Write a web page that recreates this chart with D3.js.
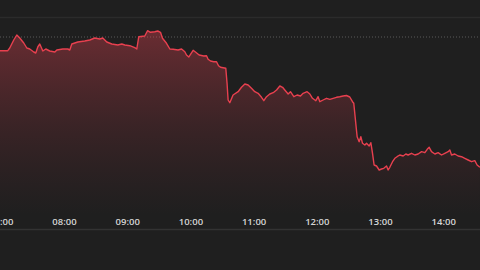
<!DOCTYPE html>
<html>
<head>
<meta charset="utf-8">
<script src="https://cdn.jsdelivr.net/npm/d3@7"></script>
<style>
html, body { margin: 0; padding: 0; background: #1f1f1f; }
svg { display: block; }
</style>
</head>
<body>
<div id="chart"></div>
<script>
// minutes after 07:00 for each reading
var minutes = [
  -0.9, 6.6, 8.5, 12.3, 15.2, 18.0, 21.8, 24.7, 27.5, 31.3,
  33.2, 35.1, 37.0, 39.9, 42.7, 46.5, 51.3, 53.2, 58.9, 63.6,
  65.5, 67.4, 73.1, 79.7, 84.5, 89.2, 94.0, 96.8, 100.6, 105.4,
  111.1, 114.9, 117.7, 122.5, 127.2, 129.1, 131.0, 136.7, 139.3, 142.1,
  146.2, 149.0, 151.6, 153.5, 157.3, 160.5, 163.6, 168.3, 171.6, 174.7,
  176.3, 178.5, 180.1, 182.6, 185.1, 188.3, 192.7, 195.3, 196.8, 199.1,
  202.2, 204.8, 206.7, 208.6, 211.1, 213.6, 214.8, 215.8, 217.4, 220.5,
  225.3, 228.5, 231.7, 234.8, 238.0, 241.1, 244.3, 247.5, 249.7, 252.3,
  255.4, 258.6, 261.8, 264.9, 267.5, 269.6, 272.8, 275.0, 278.2, 281.3,
  284.5, 287.0, 290.8, 293.4, 295.9, 299.1, 301.2, 302.9, 306.0, 309.2,
  312.4, 315.5, 318.7, 321.8, 325.0, 328.2, 331.3, 333.9, 335.1, 337.0,
  338.3, 340.2, 341.8, 343.4, 345.6, 347.2, 349.7, 351.3, 352.9, 354.4,
  356.7, 359.2, 361.4, 363.6, 366.2, 367.7, 369.3, 371.9, 374.1, 376.2,
  378.8, 382.0, 384.5, 386.7, 389.9, 393.1, 396.2, 399.5, 402.6, 404.8,
  406.7, 408.9, 412.1, 415.2, 418.4, 421.5, 424.7, 426.3, 427.9, 431.0,
  434.2, 437.4, 440.5, 443.7, 446.9, 450.0, 452.2, 454.8
];
var prices = [
  179.3, 179.3, 182, 190, 195, 192, 187, 182, 181, 178,
  177, 183, 186, 179, 181, 179, 178, 180, 181, 181,
  180, 186, 188, 189, 190, 192, 191, 192, 188, 186,
  185, 186, 185, 184.3, 182.3, 181, 193.3, 194, 199.3, 197.7,
  198.3, 199, 197.7, 191.7, 186.7, 181, 180.7, 180, 181, 178.3,
  175, 173, 175.7, 179.7, 177.7, 175, 174, 174.3, 170.7, 169,
  168.3, 168.3, 164.3, 162.7, 162.3, 161.7, 146.7, 130, 127.3, 135,
  138.3, 142.7, 146, 145, 141.7, 138.3, 136.7, 132.7, 129.3, 133.3,
  136, 137.3, 140, 144, 142.7, 140, 136, 138.3, 133.3, 135,
  134, 136.7, 138.3, 136, 131.7, 129.3, 133.3, 128.3, 130, 131.7,
  130.7, 131.7, 132.7, 133.3, 134, 134.5, 133, 128.3, 126.7, 106.7,
  93.3, 88.3, 93.3, 86.7, 85, 86.7, 84, 87.3, 76.7, 65,
  64, 60, 61, 61.7, 64, 60, 62.7, 68.3, 71.7, 73.3,
  75, 74, 76, 75, 76.7, 75, 76, 78.3, 77.3, 80.7,
  82.7, 78.3, 76, 77.3, 75, 76.7, 78.3, 80, 75, 76,
  74, 73.3, 71.7, 70, 68.3, 69.3, 65, 62.7
];
var prevClose = 193;
var tickHours = [7, 8, 9, 10, 11, 12, 13, 14];

var width = 480;
var height = 270;

function at(h, m) { return new Date(2024, 0, 15, h, 0, 0, 0).getTime() + m * 60000; }

var data = minutes.map(function(m, i) {
  return { date: new Date(at(7, m)), price: prices[i] };
});

var x = d3.scaleTime()
  .domain([new Date(at(7, 0)), new Date(at(15, 0))])
  .range([0.8, 0.8 + 63.2 * 8]);

var y = d3.scaleLinear()
  .domain([0, 212])
  .range([230, 18]);

var svg = d3.select("#chart").append("svg")
  .attr("width", width)
  .attr("height", height);

svg.append("rect")
  .attr("width", width).attr("height", height)
  .attr("fill", "#1f1f1f");

var defs = svg.append("defs");
var grad = defs.append("linearGradient")
  .attr("id", "fillGrad")
  .attr("gradientUnits", "userSpaceOnUse")
  .attr("x1", 0).attr("x2", 0)
  .attr("y1", 25).attr("y2", 215);
grad.append("stop").attr("offset", "0%").attr("stop-color", "#d8404e").attr("stop-opacity", 0.42);
grad.append("stop").attr("offset", "55%").attr("stop-color", "#c03a48").attr("stop-opacity", 0.16);
grad.append("stop").attr("offset", "100%").attr("stop-color", "#a03040").attr("stop-opacity", 0);

// top separator line
svg.append("line")
  .attr("x1", 0).attr("x2", width)
  .attr("y1", 17.5).attr("y2", 17.5)
  .attr("stroke", "#2b2b2b")
  .attr("stroke-width", 1.5);

// previous close dotted line
svg.append("line")
  .attr("x1", 0).attr("x2", width)
  .attr("y1", y(prevClose)).attr("y2", y(prevClose))
  .attr("stroke", "#5a5a5a")
  .attr("stroke-width", 1)
  .attr("stroke-dasharray", "1,2");

var area = d3.area()
  .x(function(d) { return x(d.date); })
  .y0(y(0))
  .y1(function(d) { return y(d.price); });

var line = d3.line()
  .x(function(d) { return x(d.date); })
  .y(function(d) { return y(d.price); });

svg.append("path")
  .datum(data)
  .attr("d", area)
  .attr("fill", "url(#fillGrad)");

svg.append("path")
  .datum(data)
  .attr("d", line)
  .attr("fill", "none")
  .attr("stroke", "#e8404f")
  .attr("stroke-width", 1.4)
  .attr("stroke-linejoin", "round");

// bottom axis line
svg.append("line")
  .attr("x1", 0).attr("x2", width)
  .attr("y1", 229.5).attr("y2", 229.5)
  .attr("stroke", "#333333")
  .attr("stroke-width", 1.5);

var xAxis = d3.axisBottom(x)
  .tickValues(tickHours.map(function(h) { return new Date(at(h, 0)); }))
  .tickFormat(d3.timeFormat("%H:%M"))
  .tickSize(0);

var gx = svg.append("g")
  .attr("transform", "translate(0, 215)")
  .call(xAxis);
gx.select(".domain").remove();
gx.selectAll("text")
  .attr("fill", "#d6d6d6")
  .style("font-family", "'Open Sans', sans-serif")
  .style("font-size", "9.5px")
  .style("font-weight", "600");
</script>
</body>
</html>
